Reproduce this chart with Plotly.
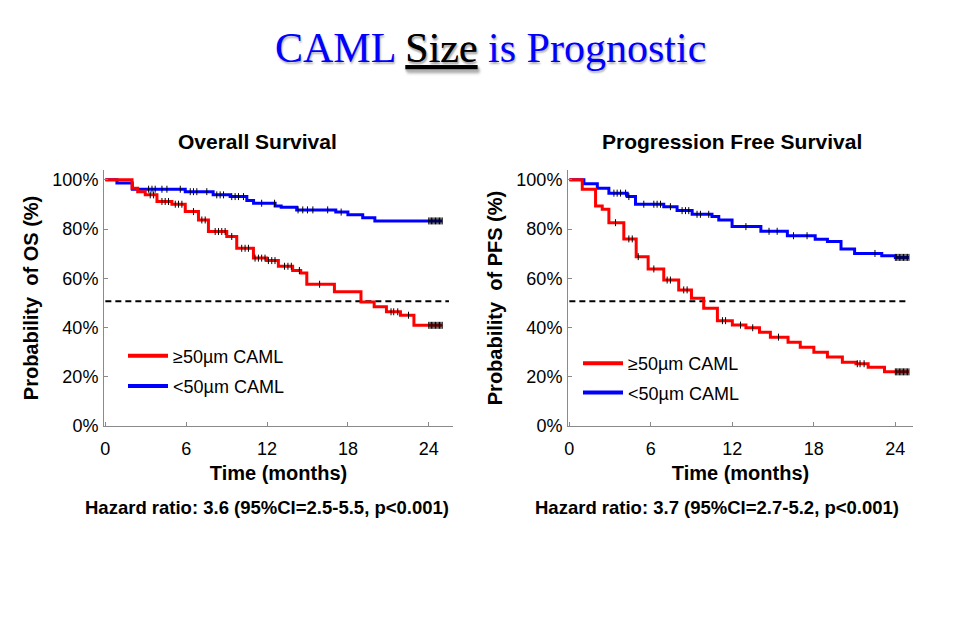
import numpy as np
import plotly.graph_objects as go

# Kaplan-Meier steps (time in months, survival in %)
os_big_t = [0, 1.98, 2.4, 2.96, 3.83, 4.94, 5.93, 6.91, 7.65, 9.01, 9.75, 10.99, 11.98, 12.84,
            13.9, 14.5, 14.95, 17.0, 18.97, 19.95, 20.86, 21.9, 22.9, 25.0]
os_big_s = [100, 96.6, 95.2, 93.9, 91.2, 90.1, 87.1, 83.7, 79.0, 77.0, 72.2, 68.2, 67.2, 64.9,
            63.2, 62.2, 57.6, 54.5, 50.4, 48.4, 46.4, 45.0, 40.9, 40.9]
os_small_t = [0, 0.86, 2.0, 5.93, 8.0, 9.26, 10.5, 11.0, 12.6, 13.05, 14.2, 17.1, 18.0, 19.1, 20.0, 25.0]
os_small_s = [100, 98.7, 96.2, 95.2, 93.9, 93.2, 91.6, 90.5, 89.4, 88.9, 87.8, 86.9, 85.8, 84.6, 83.3, 83.3]

pfs_big_t = [0, 0.95, 1.93, 2.42, 2.91, 4.01, 4.92, 5.8, 6.95, 8.05, 8.99, 9.89, 10.9, 12.0, 13.0,
             14.0, 14.8, 16.1, 17.0, 18.0, 19.0, 20.1, 21.1, 22.0, 23.2, 25.0]
pfs_big_s = [100, 96.2, 89.4, 88.1, 82.6, 76.0, 68.8, 63.8, 59.3, 55.3, 51.9, 47.8, 42.8, 41.0, 39.9,
             38.1, 36.1, 34.0, 32.0, 30.0, 28.0, 25.9, 25.3, 23.9, 22.0, 22.0]
pfs_small_t = [0, 1.07, 2.06, 2.91, 4.26, 4.87, 6.95, 7.93, 9.04, 10.5, 11.0, 11.98, 14.1, 16.05,
               18.1, 19.0, 20.0, 21.0, 23.0, 24.0, 25.0]
pfs_small_s = [100, 98.4, 96.6, 94.6, 93.2, 90.1, 89.1, 87.5, 86.0, 85.1, 83.7, 81.0, 79.1, 77.3,
               75.9, 75.0, 71.9, 70.1, 69.2, 68.5, 68.5]

# censored observations (months)
end_censor = [24.0, 24.1, 24.2, 24.3, 24.4, 24.5, 24.6, 24.7, 24.8, 24.9, 25.0]
os_big_cens = [3.33, 3.58, 4.2, 4.44, 4.69, 5.19, 5.43, 5.68, 6.54, 7.16, 7.41, 8.15, 8.4, 8.64,
               8.89, 9.38, 10.12, 10.37, 10.62, 11.11, 11.36, 11.6, 11.85, 12.1, 12.35, 12.59,
               13.3, 13.55, 13.8, 14.4, 15.9, 21.2, 21.4, 21.7, 22.5]
os_small_cens = [3.21, 3.46, 3.7, 4.2, 4.57, 5.56, 6.3, 6.54, 6.79, 7.53, 8.27, 8.52, 8.77, 9.38,
                 9.63, 9.88, 10.25, 11.6, 12.56, 14.3, 14.65, 15.0, 15.4, 16.5, 17.5]
pfs_big_cens = [3.4, 4.38, 4.63, 5.07, 6.22, 7.2, 7.44, 8.42, 8.67, 11.27, 11.5, 12.6, 13.5, 15.4,
                21.2, 21.4, 21.7]
pfs_small_cens = [3.28, 3.52, 3.77, 4.14, 4.38, 5.48, 6.22, 6.46, 6.71, 7.44, 8.3, 8.55, 8.79,
                  9.4, 9.65, 10.26, 13.0, 14.7, 15.3, 16.5, 17.5, 22.5]

median_level = 50.7
x_ticks = [0, 6, 12, 18, 24]
y_ticks = [0, 20, 40, 60, 80, 100]
y_labels = ["0%", "20%", "40%", "60%", "80%", "100%"]

RED = "#ff0000"
BLUE = "#0000ff"
FONT = "Liberation Sans, Arial, sans-serif"
W, H = 960, 619
PAGE_PAD = 8  # default page margin around the plot div


def px_x(p):
    return (p - PAGE_PAD) / W


def px_y(p):
    return 1 - (p - PAGE_PAD) / H


def surv_at(t, s, times):
    idx = np.searchsorted(np.array(t), np.array(times), side="right") - 1
    return np.array(s)[idx]


fig = go.Figure()

panels = [
    ("x", "y", os_small_t, os_small_s, os_small_cens, os_big_t, os_big_s, os_big_cens, 25.8, "legend"),
    ("x2", "y2", pfs_small_t, pfs_small_s, pfs_small_cens, pfs_big_t, pfs_big_s, pfs_big_cens, 25.3, "legend2"),
]

for xa, ya, st, ss, sc, bt, bs, bc, xmax, leg in panels:
    fig.add_trace(go.Scatter(x=[0, xmax - 0.3], y=[median_level, median_level], xaxis=xa, yaxis=ya,
                             mode="lines", line=dict(color="black", width=2, dash="6px,4px"),
                             showlegend=False, hoverinfo="skip"))
    for t, s, c, col in [(st, ss, sc, BLUE), (bt, bs, bc, RED)]:
        fig.add_trace(go.Scatter(x=t, y=s, xaxis=xa, yaxis=ya, mode="lines", line_shape="hv",
                                 line=dict(color=col, width=3), showlegend=False))
        cens = c + end_censor
        fig.add_trace(go.Scatter(x=cens, y=surv_at(t, s, cens), xaxis=xa, yaxis=ya, mode="markers",
                                 marker=dict(symbol="line-ns-open", size=5, color="black",
                                             line=dict(color="black", width=1)),
                                 showlegend=False))
    # legend entries
    fig.add_trace(go.Scatter(x=[None], y=[None], xaxis=xa, yaxis=ya, mode="lines",
                             line=dict(color=RED, width=4), name="≥50µm CAML", legend=leg,
                             legendgroup=leg + "a"))
    fig.add_trace(go.Scatter(x=[None], y=[None], xaxis=xa, yaxis=ya, mode="lines",
                             line=dict(color=BLUE, width=4), name="<50µm CAML", legend=leg,
                             legendgroup=leg + "b"))

axis_common = dict(showline=True, linecolor="#8a8a8a", linewidth=1, ticks="inside", ticklen=4,
                   tickcolor="#8a8a8a", showgrid=False, zeroline=False, automargin=False,
                   tickfont=dict(family=FONT, size=18, color="black"))
y_dom = [px_y(426), px_y(170)]

fig.update_layout(
    width=W, height=H,
    margin=dict(l=0, r=0, t=0, b=0),
    paper_bgcolor="white", plot_bgcolor="white",
    font=dict(family=FONT, color="black"),
    xaxis=dict(domain=[px_x(104), px_x(453)], range=[-0.1, 25.8], tickvals=x_ticks, anchor="y",
               ticklabelstandoff=6,
               title=dict(text="<b>Time (months)</b>", font=dict(size=20), standoff=8), **axis_common),
    yaxis=dict(domain=y_dom, range=[0, 104], tickvals=y_ticks, ticktext=y_labels, anchor="x",
               ticklabelstandoff=1,
               title=dict(text="<b>Probability  of OS (%)</b>", font=dict(size=20), standoff=8), **axis_common),
    xaxis2=dict(domain=[px_x(568), px_x(913)], range=[-0.1, 25.3], tickvals=x_ticks, anchor="y2",
                ticklabelstandoff=6,
                title=dict(text="<b>Time (months)</b>", font=dict(size=20), standoff=8), **axis_common),
    yaxis2=dict(domain=y_dom, range=[0, 104], tickvals=y_ticks, ticktext=y_labels, anchor="x2",
                ticklabelstandoff=1,
                title=dict(text="<b>Probability  of PFS (%)</b>", font=dict(size=20), standoff=8), **axis_common),
    legend=dict(x=px_x(123), y=px_y(371), xanchor="left", yanchor="middle", bgcolor="rgba(0,0,0,0)",
                font=dict(size=18), tracegroupgap=4, itemwidth=40),
    legend2=dict(x=px_x(578), y=px_y(378), xanchor="left", yanchor="middle", bgcolor="rgba(0,0,0,0)",
                 font=dict(size=18), tracegroupgap=3, itemwidth=40),
    showlegend=True,
)

texts = [
    ("CAML <span style='color:black'><u>Size</u></span> is Prognostic", 490, 48,
     dict(family="Liberation Serif, Times New Roman, serif", size=42, color=BLUE, shadow="1px 2px 2px #b0b0b0")),
    ("<b>Overall Survival</b>", 257, 141, dict(size=21)),
    ("<b>Progression Free Survival</b>", 732, 141, dict(size=21)),
    ("<b>Hazard ratio: 3.6 (95%CI=2.5-5.5, p<0.001)</b>", 267, 507, dict(size=18.5)),
    ("<b>Hazard ratio: 3.7 (95%CI=2.7-5.2, p<0.001)</b>", 717, 507, dict(size=18.5)),
]
for txt, tx, ty, f in texts:
    fig.add_annotation(text=txt, x=px_x(tx), y=px_y(ty), xref="paper", yref="paper",
                       xanchor="center", yanchor="middle", showarrow=False, font=f)

fig.write_html("out.html")
